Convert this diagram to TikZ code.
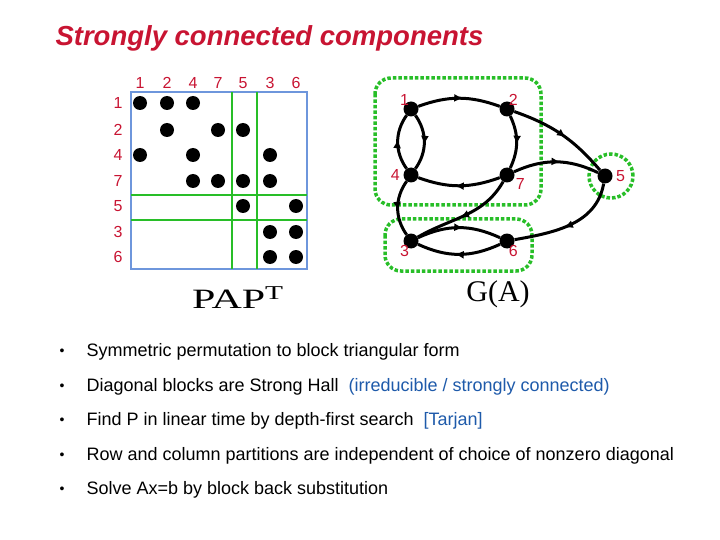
\documentclass[tikz,border=0pt]{standalone}
\usepackage{fontspec}
\setmainfont{Liberation Sans}
\newfontfamily\timesfont{Liberation Serif}
\usetikzlibrary{positioning, arrows.meta, decorations.markings}
\definecolor{labred}{RGB}{200,20,50}
\definecolor{boxblue}{RGB}{110,150,220}
\definecolor{sccgreen}{RGB}{40,190,40}
\definecolor{noteblue}{RGB}{30,90,170}
\tikzset{
  lbl/.style = {text = labred, font = \fontsize{16}{18}\selectfont},
  vtx/.style = {circle, fill = black, inner sep = 0pt, minimum size = 15pt},
  dot/.style = {circle, fill = black, inner sep = 0pt, minimum size = 14pt},
  edge/.style = {line width = 3pt, postaction = {decorate},
    decoration = {markings, mark = at position 0.55 with {\arrow{Latex[length=9pt, width=8pt]}}}},
  scc/.style = {draw = sccgreen, line width = 3.5pt, dotted, rounded corners = 16pt},
  bul/.style = {anchor = west, font = \fontsize{18}{20}\selectfont}
}
\begin{document}
\begin{tikzpicture}[x = 1pt, y = -1pt]
    \useasboundingbox (0, 0) rectangle (720, 540);

    % title
    \node [anchor = west, text = labred, font = \fontsize{27.5}{30}\selectfont\bfseries\itshape] (title) at (52, 38) {Strongly connected components};

    % matrix
    \draw [boxblue, line width = 2.5pt] (131, 92) rectangle (307, 269);
    \draw [sccgreen, line width = 2.5pt] (232, 92) -- (232, 269) (257, 92) -- (257, 269)
        (131, 195) -- (307, 195) (131, 220) -- (307, 220);
    \foreach \n/\x in {1/140, 2/167, 4/193, 7/218, 5/243, 3/270, 6/296}
        \node [lbl] at (\x, 83) {\n};
    \foreach \n/\y in {1/103, 2/130, 4/155, 7/181, 5/206, 3/232, 6/257}
        \node [lbl] at (118, \y) {\n};
    \foreach \x/\y in {140/103, 167/103, 193/103, 167/130, 218/130, 243/130,
                       140/155, 193/155, 270/155, 193/181, 218/181, 243/181, 270/181,
                       243/206, 296/206, 270/232, 296/232, 270/257, 296/257}
        \node [dot] at (\x, \y) {};
    \node [font = \fontsize{28}{30}\selectfont\timesfont, xscale = 1.5] (papt) at (238, 298) {PAP\textsuperscript{T}};

    % graph
    \node [vtx] (v1) at (411, 109) {};
    \node [vtx] (v2) at (507, 109) {};
    \node [vtx] (v4) at (411, 175) {};
    \node [vtx] (v7) at (507, 175) {};
    \node [vtx] (v5) at (605, 176) {};
    \node [vtx] (v3) at (411, 241) {};
    \node [vtx] (v6) at (507, 241) {};
    \node [lbl, above left = -5pt and -7pt of v1] {1};
    \node [lbl, above right = -5pt and -7pt of v2] {2};
    \node [lbl, left = 0pt of v4] {4};
    \node [lbl, below right = -5pt and 0pt of v7] {7};
    \node [lbl, right = 0pt of v5] {5};
    \node [lbl, below left = -5pt and -7pt of v3] {3};
    \node [lbl, below right = -5pt and -7pt of v6] {6};

    \draw [scc] (375, 78) rectangle (541, 205);
    \draw [scc] (385, 219) rectangle (532, 271);
    \draw [scc] (611, 176) circle (22pt);

    \draw [edge] (v1) to [bend left = 20] (v2);
    \draw [edge] (v2) to [bend left = 25] (v7);
    \draw [edge] (v2) to [bend left = 15] (v5);
    \draw [edge] (v7) to [bend left = 25] (v5);
    \draw [edge] (v7) to [bend left = 20] (v4);
    \draw [edge] (v1) to [bend left = 35] (v4);
    \draw [edge] (v4) to [bend left = 35] (v1);
    \draw [edge] (v4) to [bend right = 35] (v3);
    \draw [edge] (v7) to [out = 240, in = 30] (v3);
    \draw [edge] (v3) to [bend left = 25] (v6);
    \draw [edge] (v6) to [bend left = 25] (v3);
    \draw [edge] (v5) to [out = 260, in = 10] (v6);
    \node [font = \fontsize{30}{32}\selectfont\timesfont] (ga) at (498, 294) {G(A)};

    % bullets
    \foreach \y in {352, 387, 421, 456, 490}
        \node [bul, font = \fontsize{14}{16}\selectfont] at (56, \y) {\textbullet};
    \node [bul] (b1) at (83, 352) {Symmetric permutation to block triangular form};
    \node [bul] (b2) at (83, 387) {Diagonal blocks are Strong Hall \ \textcolor{noteblue}{(irreducible / strongly connected)}};
    \node [bul] (b3) at (83, 421) {Find P in linear time by depth-first search \ \textcolor{noteblue}{[Tarjan]}};
    \node [bul] (b4) at (83, 456) {Row and column partitions are independent of choice of nonzero diagonal};
    \node [bul] (b5) at (83, 490) {Solve Ax=b by block back substitution};
\end{tikzpicture}
\end{document}
